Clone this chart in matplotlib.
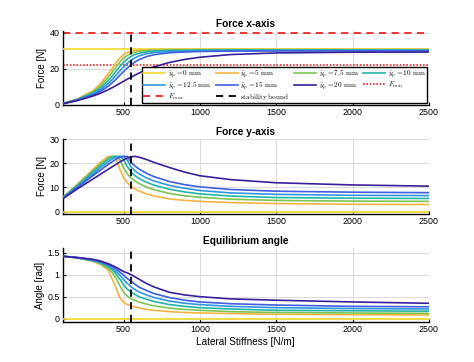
import matplotlib
matplotlib.use("Agg")
import matplotlib.pyplot as plt

plt.rcParams['font.family'] = ['Liberation Sans', 'DejaVu Sans']
plt.rcParams['mathtext.fontset'] = 'cm'

# ---------------- data ----------------
stiffness = [100, 200, 300, 350, 400, 425, 450, 475, 500, 525, 550, 575, 600,
             650, 700, 800, 900, 1000, 1200, 1500, 2000, 2500]
offsets_mm = ['0', '5', '7.5', '10', '12.5', '15', '20']
colors = ['#F0DA2C', '#F4B442', '#7DC452', '#22B5A6', '#3096E0', '#3F5FE0', '#3A1F9B']

force_x = [
    [31.2] * 22,
    [0.8, 3.5, 8.0, 12.0, 17.5, 20.5, 23.5, 26.0, 28.0, 29.2, 29.9, 30.2, 30.4,
     30.6, 30.7, 30.8, 30.8, 30.8, 30.8, 30.8, 30.8, 30.8],
    [0.8, 3.3, 7.3, 10.8, 15.5, 18.3, 21.2, 23.8, 26.0, 27.6, 28.7, 29.3, 29.8,
     30.2, 30.4, 30.6, 30.6, 30.7, 30.7, 30.7, 30.7, 30.7],
    [0.7, 3.1, 6.7, 9.6, 13.6, 16.1, 18.8, 21.4, 23.7, 25.6, 27.0, 28.0, 28.7,
     29.5, 29.9, 30.2, 30.3, 30.4, 30.5, 30.5, 30.5, 30.5],
    [0.7, 2.9, 6.1, 8.6, 12.0, 14.1, 16.5, 18.9, 21.2, 23.2, 24.9, 26.2, 27.2,
     28.5, 29.1, 29.7, 29.9, 30.1, 30.2, 30.2, 30.3, 30.3],
    [0.7, 2.7, 5.6, 7.7, 10.5, 12.3, 14.3, 16.5, 18.6, 20.6, 22.4, 23.9, 25.1,
     26.9, 27.9, 29.0, 29.4, 29.7, 29.9, 30.0, 30.0, 30.0],
    [0.6, 2.5, 5.0, 6.6, 8.5, 9.6, 10.8, 12.0, 13.2, 14.4, 15.5, 16.6, 17.7,
     19.6, 21.2, 23.6, 25.3, 26.5, 28.0, 28.9, 29.3, 29.4],
]

force_y = [
    [0.0] * 22,
    [5.8, 11.5, 17.5, 20.5, 22.8, 22.8, 21.8, 17.5, 14.0, 11.8, 10.4, 9.3, 8.5,
     7.3, 6.4, 5.2, 4.6, 4.2, 3.7, 3.3, 3.0, 2.9],
    [5.7, 11.2, 17.0, 19.8, 22.2, 22.8, 22.8, 21.5, 18.0, 15.5, 13.8, 12.6, 11.6,
     10.1, 9.0, 7.5, 6.5, 5.9, 5.1, 4.6, 4.3, 4.2],
    [5.6, 10.9, 16.4, 19.1, 21.6, 22.6, 22.8, 22.8, 21.5, 18.5, 16.2, 14.8, 13.7,
     12.1, 10.9, 9.2, 8.1, 7.3, 6.4, 5.8, 5.5, 5.4],
    [5.5, 10.5, 15.6, 18.2, 20.6, 21.7, 22.6, 22.8, 22.8, 21.2, 18.3, 16.8, 15.6,
     13.9, 12.6, 10.8, 9.6, 8.7, 7.7, 7.1, 6.7, 6.6],
    [5.4, 10.1, 14.9, 17.2, 19.5, 20.6, 21.6, 22.4, 22.8, 22.8, 20.3, 18.8, 17.6,
     15.8, 14.4, 12.4, 11.1, 10.2, 9.1, 8.4, 8.0, 7.8],
    [5.2, 9.5, 13.5, 15.5, 17.5, 18.5, 19.5, 20.5, 21.4, 22.2, 22.7, 22.8, 22.5,
     21.5, 20.3, 18.2, 16.3, 14.8, 13.2, 11.9, 11.0, 10.5],
]

angle = [
    [0.0] * 22,
    [1.42, 1.38, 1.30, 1.23, 1.10, 0.90, 0.70, 0.48, 0.37, 0.32, 0.29, 0.265, 0.245,
     0.21, 0.19, 0.16, 0.14, 0.13, 0.115, 0.10, 0.09, 0.085],
    [1.42, 1.38, 1.31, 1.25, 1.14, 1.05, 0.92, 0.75, 0.60, 0.51, 0.45, 0.41, 0.38,
     0.33, 0.29, 0.24, 0.21, 0.19, 0.16, 0.14, 0.13, 0.12],
    [1.42, 1.385, 1.32, 1.27, 1.18, 1.11, 1.02, 0.90, 0.77, 0.67, 0.60, 0.55, 0.50,
     0.44, 0.39, 0.32, 0.28, 0.25, 0.22, 0.19, 0.18, 0.17],
    [1.42, 1.387, 1.33, 1.28, 1.21, 1.15, 1.08, 0.99, 0.89, 0.80, 0.72, 0.66, 0.61,
     0.54, 0.48, 0.40, 0.35, 0.32, 0.28, 0.25, 0.23, 0.22],
    [1.42, 1.388, 1.34, 1.30, 1.23, 1.19, 1.13, 1.06, 0.99, 0.91, 0.85, 0.78, 0.72,
     0.64, 0.57, 0.48, 0.42, 0.38, 0.34, 0.31, 0.28, 0.27],
    [1.42, 1.39, 1.35, 1.31, 1.25, 1.21, 1.17, 1.12, 1.07, 1.04, 1.00, 0.95, 0.90,
     0.80, 0.72, 0.60, 0.54, 0.50, 0.45, 0.42, 0.38, 0.35],
]

F_max = 40.0
F_min = 22.3
stability_bound = 550
xticks = [500, 1000, 1500, 2000, 2500]

# ---------------- figure ----------------
fig = plt.figure(figsize=(4.74, 3.62), dpi=100)
L, W = 0.132, 0.773
axs = [fig.add_axes([L, 0.710, W, 0.204]),
       fig.add_axes([L, 0.409, W, 0.207]),
       fig.add_axes([L, 0.110, W, 0.204])]

titles = ['Force x-axis', 'Force y-axis', 'Equilibrium angle']
ylabels = ['Force [N]', 'Force [N]', 'Angle [rad]']
datasets = [force_x, force_y, angle]
ylims = [(0, 41), (-1, 30), (-0.08, 1.6)]
yticks = [[0, 20, 40], [0, 10, 20, 30], [0, 0.5, 1, 1.5]]
yticklabels = [['0', '20', '40'], ['0', '10', '20', '30'], ['0', '0.5', '1', '1.5']]

handles = []
for i, ax in enumerate(axs):
    for j, series in enumerate(datasets[i]):
        h, = ax.plot(stiffness, series, color=colors[j], lw=1.2, zorder=3,
                     label=r'$\bar{y}_p = ' + offsets_mm[j] + r'\ \mathrm{mm}$')
        if i == 0:
            handles.append(h)
    sb = ax.axvline(stability_bound, color='black', ls=(0, (4, 3)), lw=1.3, zorder=4,
                    label=r'$\mathrm{stability\ bound}$')
    ax.set_xlim(100, 2500)
    ax.set_ylim(*ylims[i])
    ax.set_xticks(xticks)
    ax.set_xticklabels([str(t) for t in xticks])
    ax.set_yticks(yticks[i])
    ax.set_yticklabels(yticklabels[i])
    ax.grid(True, color='#DCDCDC', lw=0.8, zorder=0)
    ax.set_axisbelow(True)
    ax.spines['top'].set_visible(False)
    ax.spines['right'].set_visible(False)
    ax.spines['left'].set_linewidth(1.0)
    ax.spines['bottom'].set_linewidth(1.0)
    ax.tick_params(direction='in', length=2.5, width=0.8, labelsize=6.4, pad=2)
    ax.set_title(titles[i], fontsize=7.3, fontweight='bold', pad=3)
    ax.set_ylabel(ylabels[i], fontsize=7, labelpad=2)
    if i == 0:
        hmin = ax.axhline(F_min, color='#E8282B', ls=(0, (1, 1)), lw=1.2, zorder=2,
                          label=r'$F_{min}$')
        hmax = ax.axhline(F_max, color='#E8282B', ls=(0, (4, 3)), lw=1.3, zorder=2,
                          label=r'$F_{max}$')
        hsb = sb

axs[2].set_xlabel('Lateral Stiffness [N/m]', fontsize=7.2, labelpad=2)

# legend: row-major order as in the reference, arranged for column-major filling
A, B, C, D, E, F, G = handles
order = [A, E, hmax, B, F, hsb, C, G, D, hmin]
leg = axs[0].legend(handles=order, labels=[h.get_label() for h in order],
                    ncol=4, loc='lower right', fontsize=5.2, frameon=True,
                    fancybox=False, edgecolor='black', framealpha=1,
                    handlelength=3.0, handletextpad=0.4, columnspacing=0.6,
                    labelspacing=0.0, borderpad=0.2, borderaxespad=0.25)
leg.get_frame().set_linewidth(1.0)
leg.set_zorder(10)

fig.savefig('out.png', dpi=100)
